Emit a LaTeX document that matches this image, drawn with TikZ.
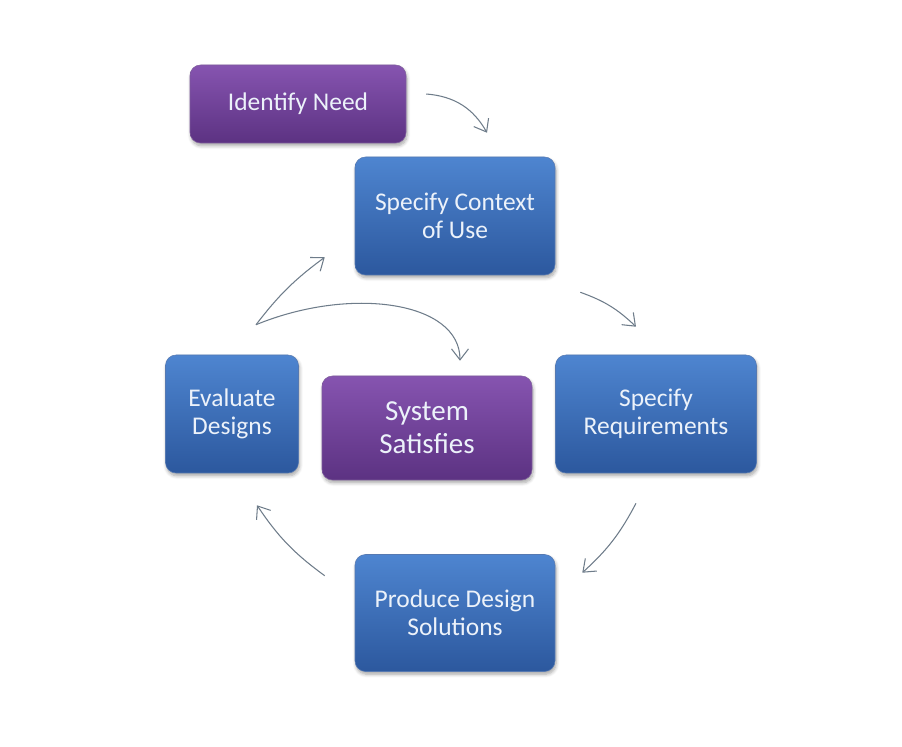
\documentclass[tikz,border=0pt]{standalone}
\usepackage{fontspec}
\setmainfont{Carlito}
\usetikzlibrary{arrows.meta,positioning,shadows.blur}

\definecolor{blueTop}{RGB}{78,133,208}
\definecolor{blueBot}{RGB}{44,88,158}
\definecolor{purpTop}{RGB}{134,84,176}
\definecolor{purpBot}{RGB}{92,50,130}
\definecolor{arrGray}{RGB}{110,124,138}
\definecolor{txtLight}{RGB}{236,242,250}

\begin{document}
\begin{tikzpicture}[
    font=\fontsize{14.5}{16}\selectfont,
    >={Straight Barb[length=2.2mm,width=3.4mm]},
    stage/.style={rounded corners=6pt, align=center, text=txtLight,
                  top color=blueTop, bottom color=blueBot, draw=blueBot!80,
                  line width=0.3pt, inner sep=4pt,
                  blur shadow={shadow xshift=0.6pt, shadow yshift=-1.6pt,
                               shadow blur steps=6, shadow opacity=35}},
    goal/.style={stage, top color=purpTop, bottom color=purpBot, draw=purpBot!80},
    flow/.style={->, arrGray, line width=0.6pt}
  ]
  \useasboundingbox (0,0) rectangle (18.04,14.92);

  % Start
  \node[goal, minimum width=4.32cm, minimum height=1.56cm] (need) at (5.96, 12.84) {Identify Need};

  % Cycle boxes
  \node[stage, minimum width=4.0cm, minimum height=2.36cm] (ctx) at (9.10, 10.60) {Specify Context\\of Use};
  \node[stage, minimum width=4.02cm, minimum height=2.36cm] (req) at (13.12, 6.64) {Specify\\Requirements};
  \node[stage, minimum width=4.0cm, minimum height=2.34cm] (sol) at (9.10, 2.66) {Produce Design\\Solutions};
  \node[stage, minimum width=2.66cm, minimum height=2.36cm] (eval) at (4.64, 6.64) {Evaluate\\Designs};

  % End
  \node[goal, minimum width=4.2cm, minimum height=2.08cm,
        font=\fontsize{16.5}{19}\selectfont] (sat) at (8.54, 6.36) {System\\Satisfies};

  % Fork point above Evaluate Designs
  \coordinate (fork) at ([shift={(0.48,0.6)}]eval.north);

  % Connections
  \draw[flow] ([shift={(0.4,0.2)}]need.east) to[bend left=28] ([shift={(0.64,0.48)}]ctx.north);
  \draw[flow] ([shift={(0.5,-0.34)}]ctx.south east) to[bend left=12] ([shift={(-0.4,0.56)}]req.north);
  \draw[flow] ([shift={(-0.4,-0.6)}]req.south) to[bend left=10] ([shift={(0.54,-0.37)}]sol.north east);
  \draw[flow] ([shift={(-0.6,-0.43)}]sol.north west) to[bend left=10] ([shift={(0.5,-0.64)}]eval.south);
  \draw[flow] (fork) to[bend left=8] ([shift={(-0.6,0.36)}]ctx.south west);
  \draw[flow] (fork) .. controls (7.0,9.2) and (9.2,8.9) .. ([shift={(0.66,0.3)}]sat.north);
\end{tikzpicture}
\end{document}
